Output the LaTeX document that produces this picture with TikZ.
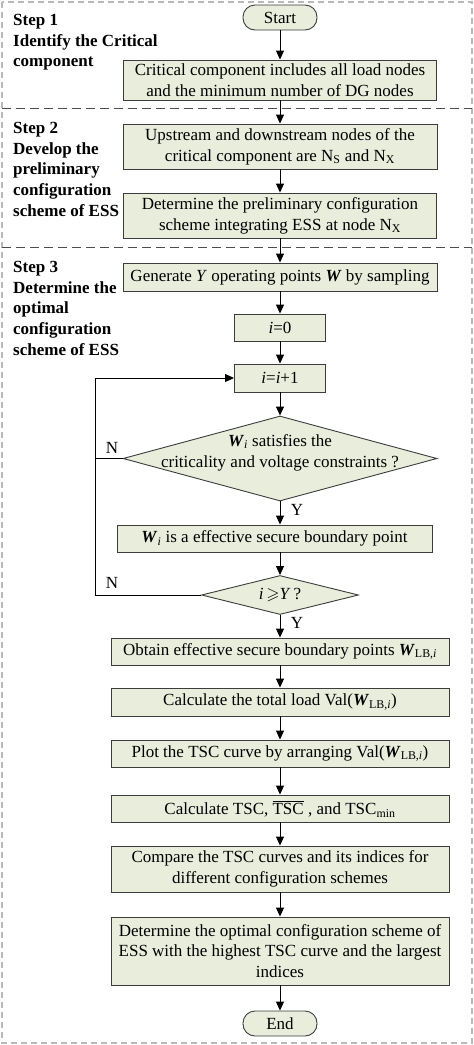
\documentclass[tikz,border=0pt]{standalone}
\usepackage{fontspec}
\setmainfont{Liberation Serif}
\usepackage{amssymb}
\usetikzlibrary{arrows.meta, shapes.geometric}
\definecolor{boxfill}{RGB}{232,237,220}
\definecolor{edge}{RGB}{60,60,60}

\begin{document}
\begin{tikzpicture} [x=1pt, y=-1pt, align=center,
  font=\fontsize{17}{20.7}\selectfont,
  >={Triangle[length=9pt,width=8pt]},
  proc/.style={rectangle, draw=edge, fill=boxfill, inner sep=0pt, line width=0.9pt},
  term/.style={proc, rounded corners=12pt, minimum width=74pt, minimum height=25pt},
  dec/.style={diamond, draw=edge, fill=boxfill, inner sep=0pt, line width=0.9pt},
  steptext/.style={anchor=north west, align=left, inner sep=0pt, font=\fontsize{17}{20.7}\selectfont\bfseries},
  divider/.style={draw=black!70, dash pattern=on 9pt off 5pt, line width=0.9pt}]
\useasboundingbox (0,0) rectangle (474,1045);

\draw[gray!55, dash pattern=on 6pt off 4pt, line width=1.2pt] (2,2) rectangle (472,1043);
\draw[divider] (2,108) -- (472,108);
\draw[divider] (2,247) -- (472,247);

\node[steptext] (s1) at (13,14) {Step 1\\Identify the Critical\\component};
\node[steptext] (s2) at (13,122) {Step 2\\Develop the\\preliminary\\configuration\\scheme of ESS};
\node[steptext] (s3) at (13,261) {Step 3\\Determine the\\optimal\\configuration\\scheme of ESS};

\path (280,17.5) node[term] (start) {Start}
      (280,80) node[proc, minimum width=313pt, minimum height=40pt] (crit) {Critical component includes all load nodes\\and the minimum number of DG nodes}
      (280,146.5) node[proc, minimum width=314pt, minimum height=45pt] (updown) {Upstream and downstream nodes of the\\critical component are N\textsubscript{S} and N\textsubscript{X}}
      (280,215.5) node[proc, minimum width=313pt, minimum height=45pt] (prelim) {Determine the preliminary configuration\\scheme integrating ESS at node N\textsubscript{X}}
      (280,277) node[proc, minimum width=314pt, minimum height=28pt] (gen) {Generate \textit{Y} operating points \textbf{\textit{W}} by sampling}
      (280,327.5) node[proc, minimum width=91pt, minimum height=27pt] (izero) {\textit{i}=0}
      (280,378) node[proc, minimum width=91pt, minimum height=28pt] (incr) {\textit{i}=\textit{i}+1}
      (280,458.5) node[dec, minimum width=314pt, minimum height=85pt,
        label={[yshift=6pt]center:\textbf{\textit{W}}\textsubscript{\textit{i}} satisfies the\\criticality and voltage constraints ?}] (sat) {}
      (274.5,538.5) node[proc, minimum width=315pt, minimum height=27pt] (wi) {\textbf{\textit{W}}\textsubscript{\textit{i}} is a effective secure boundary point}
      (280,595) node[dec, minimum width=157pt, minimum height=39pt,
        label={center:\textit{i}\,$\geqslant$\textit{Y}\,?}] (bound) {}
      (280,651.5) node[proc, minimum width=338pt, minimum height=27pt] (obtain) {Obtain effective secure boundary points \textbf{\textit{W}}\textsubscript{LB,\textit{i}}}
      (280,702) node[proc, minimum width=338pt, minimum height=28pt] (total) {Calculate the total load Val(\textbf{\textit{W}}\textsubscript{LB,\textit{i}})}
      (280,753.5) node[proc, minimum width=338pt, minimum height=27pt] (plot) {Plot the TSC curve by arranging Val(\textbf{\textit{W}}\textsubscript{LB,\textit{i}})}
      (280,808.5) node[proc, minimum width=338pt, minimum height=27pt] (calc) {Calculate TSC, $\overline{\mbox{TSC}}$ , and TSC\textsubscript{min}}
      (280,869) node[proc, minimum width=338pt, minimum height=46pt] (compare) {Compare the TSC curves and its indices for\\different configuration schemes}
      (280,951) node[proc, minimum width=338pt, minimum height=68pt] (optimal) {Determine the optimal configuration scheme of\\ESS with the highest TSC curve and the largest\\indices}
      (280,1023.5) node[term] (end) {End};

\node (yes1) at (297,510) {Y};
\node (yes2) at (297,623) {Y};
\node (no1) at (112,448) {N};
\node (no2) at (112,583) {N};
\coordinate (back) at (95,458.5);

\draw[->, line width=1pt] (start) to (crit);
\draw[->, line width=1pt] (crit) to (updown);
\draw[->, line width=1pt] (updown) to (prelim);
\draw[->, line width=1pt] (prelim) to (gen);
\draw[->, line width=1pt] (gen) to (izero);
\draw[->, line width=1pt] (izero) to (incr);
\draw[->, line width=1pt] (incr) to (sat);
\draw[->, line width=1pt] (sat) to (sat |- wi.north);
\draw[->, line width=1pt] (wi.south -| bound) to (bound);
\draw[->, line width=1pt] (bound) to (obtain);
\draw[->, line width=1pt] (obtain) to (total);
\draw[->, line width=1pt] (total) to (plot);
\draw[->, line width=1pt] (plot) to (calc);
\draw[->, line width=1pt] (calc) to (compare);
\draw[->, line width=1pt] (compare) to (optimal);
\draw[->, line width=1pt] (optimal) to (end);
\draw[->, line width=1pt] (sat.west) -- (back) |- (incr.west);
\draw[line width=1pt] (bound.west) -| (back);

\end{tikzpicture}
\end{document}
